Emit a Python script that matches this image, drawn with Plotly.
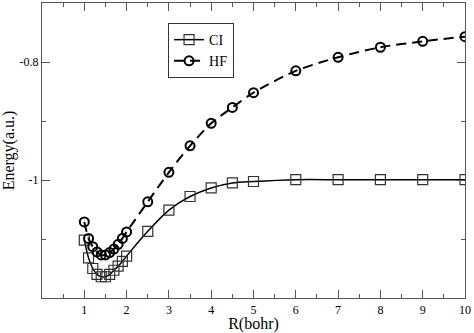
import plotly.graph_objects as go

# Bond length grid (bohr)
r_ci = [1.0, 1.1, 1.2, 1.3, 1.4, 1.5, 1.6, 1.7, 1.8, 1.9, 2.0,
        2.5, 3.0, 3.5, 4.0, 4.5, 5.0, 6.0, 7.0, 8.0, 9.0, 10.0]
r_hf = [1.0, 1.1, 1.2, 1.3, 1.4, 1.5, 1.6, 1.7, 1.8, 1.9, 2.0,
        2.5, 3.0, 3.5, 4.0, 4.5, 5.0, 6.0, 7.0, 8.0, 9.0, 10.0]

# Total energies (a.u.)
e_ci = [-1.102, -1.132, -1.150, -1.160, -1.164, -1.164, -1.160, -1.153,
        -1.146, -1.138, -1.129, -1.087, -1.051, -1.028, -1.0135, -1.005,
        -1.0025, -0.9995, -0.9995, -0.9995, -0.9995, -0.9995]
e_hf = [-1.071, -1.099, -1.113, -1.122, -1.127, -1.127, -1.123, -1.117,
        -1.109, -1.099, -1.088, -1.037, -0.987, -0.942, -0.904, -0.877,
        -0.852, -0.815, -0.792, -0.775, -0.765, -0.757]

x_ticks = [1, 2, 3, 4, 5, 6, 7, 8, 9, 10]
x_minor = [0.5, 1.5, 2.5, 3.5, 4.5, 5.5, 6.5, 7.5, 8.5, 9.5]
y_ticks = [-1.0, -0.8]
y_ticktext = ["-1", "-0.8"]
y_minor = [-1.1, -0.9, -0.7]

serif = "Liberation Serif, Times New Roman, serif"
frame = "#555555"

fig = go.Figure()
fig.add_trace(go.Scatter(
    x=r_ci, y=e_ci, name="CI", mode="lines+markers",
    line=dict(color="black", width=1.5, shape="spline", smoothing=0.8),
    marker=dict(symbol="square-open", size=10, color="#333333",
                line=dict(width=1.2)),
))
fig.add_trace(go.Scatter(
    x=r_hf, y=e_hf, name="HF", mode="lines+markers",
    line=dict(color="black", width=2, dash="10px,6px", shape="spline",
              smoothing=0.8),
    marker=dict(symbol="circle-open", size=9, color="black",
                line=dict(width=2)),
))

axis_common = dict(
    showline=True, linecolor=frame, linewidth=1.2, mirror="allticks",
    ticks="inside", tickcolor=frame, ticklen=8, tickwidth=1.2,
    showgrid=False, zeroline=False,
    tickfont=dict(family=serif, size=12, color="black"),
)

fig.update_layout(
    width=474, height=333,
    margin=dict(l=42, r=9, t=3, b=35),
    paper_bgcolor="white", plot_bgcolor="white",
    font=dict(family=serif, color="black"),
    xaxis=dict(
        range=[0, 10], tickvals=x_ticks,
        minor=dict(tickvals=x_minor, ticks="inside", ticklen=4,
                   tickcolor=frame, tickwidth=1.2),
        title=dict(text="R(bohr)", font=dict(family=serif, size=16),
                   standoff=0),
        **axis_common,
    ),
    yaxis=dict(
        range=[-1.2, -0.7], tickvals=y_ticks, ticktext=y_ticktext,
        minor=dict(tickvals=y_minor, ticks="inside", ticklen=4,
                   tickcolor=frame, tickwidth=1.2),
        title=dict(text="Energy(a.u.)", font=dict(family=serif, size=16),
                   standoff=4),
        **axis_common,
    ),
    legend=dict(
        x=0.298, y=0.932, xanchor="left", yanchor="top",
        bordercolor="#333333", borderwidth=1, bgcolor="white",
        font=dict(family=serif, size=14), itemwidth=30,
        tracegroupgap=0,
    ),
    showlegend=True,
)

fig.write_html("out.html")
